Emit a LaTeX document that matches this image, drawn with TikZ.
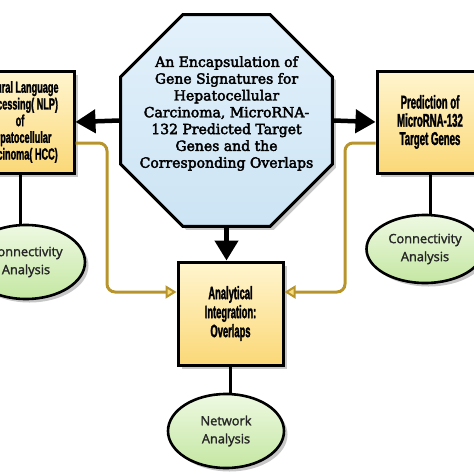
\documentclass[tikz,border=0pt]{standalone}
\usepackage{fontspec}
\usetikzlibrary{shapes.geometric,arrows.meta,shadows}
\newfontfamily\octfont{DejaVu Serif}[FakeBold=2.8]
\newfontfamily\condfont{Liberation Sans}[FakeStretch=0.57,FakeBold=1.5]
\newfontfamily\condfontb{Liberation Sans}[FakeStretch=0.52,FakeBold=1.5]
\newfontfamily\ellfont{Open Sans}[FakeBold=1.8]
\definecolor{goldline}{HTML}{B8952C}
\definecolor{goldfill}{HTML}{F6DC7A}
\definecolor{boxtop}{HTML}{FFF5CF}
\definecolor{boxbot}{HTML}{FBD877}
\definecolor{elltop}{HTML}{EEF9E2}
\definecolor{ellbot}{HTML}{C4E7A2}
\definecolor{octtop}{HTML}{E3F1FB}
\definecolor{octbot}{HTML}{CCE4F4}
\tikzset{
  shad/.style={drop shadow={shadow xshift=3.5pt,shadow yshift=-3.5pt,fill=black!40,opacity=0.55}},
  ybox/.style={draw=black,line width=3pt,top color=boxtop,bottom color=boxbot,shad,
    align=center,inner sep=0pt,font=\condfont\bfseries},
  gell/.style={ellipse,draw=black,line width=2.6pt,top color=elltop,bottom color=ellbot,shad,
    align=center,inner sep=0pt,font=\ellfont\fontsize{12.8}{18}\selectfont,text=black!85},
  blackarrow/.style={line width=4.5pt,-{Triangle[length=20pt,width=23pt]}},
  goldarrow/.style={draw=goldline,line width=3pt,rounded corners=8pt,
    -{Triangle[length=11pt,width=13pt,fill=goldfill,line width=2pt]}},
  plainline/.style={line width=3pt}
}
\begin{document}
\begin{tikzpicture}[x=1pt,y=-1pt]
\useasboundingbox (0,0) rectangle (474,474);
% octagon
\node[regular polygon,regular polygon sides=8,minimum size=229pt,inner sep=0pt,
  draw=black,line width=3pt,top color=octtop,bottom color=octbot,shad] (oct) at (226.5,120.5) {};
\node[align=center,font=\octfont\fontsize{14}{16.8}\selectfont,inner sep=0pt,text=black] (octtext) at (226.5,113.5)
  {An Encapsulation of\\Gene Signatures for\\Hepatocellular\\Carcinoma, MicroRNA-\\132 Predicted Target\\Genes and the\\Corresponding Overlaps};
% boxes
\node[ybox,minimum width=108pt,minimum height=102pt,font=\condfont\bfseries\fontsize{16}{16.7}\selectfont] (nlp) at (20,122)
  {Natural Language\\Processing( NLP)\\of\\Hepatocellular\\Carcinoma( HCC)};
\node[ybox,minimum width=106pt,minimum height=102pt,font=\condfontb\bfseries\fontsize{18.5}{18.2}\selectfont] (pred) at (430,122)
  {Prediction of\\MicroRNA-132\\Target Genes};
\node[ybox,minimum width=105pt,minimum height=103pt,font=\condfontb\bfseries\fontsize{18}{19}\selectfont] (anal) at (230.5,313.5)
  {Analytical\\Integration:\\Overlaps};
% ellipses
\node[gell,minimum width=118pt,minimum height=74pt] (conn1) at (26,262) {Connectivity\\Analysis};
\node[gell,minimum width=117pt,minimum height=68pt] (conn2) at (425,249) {Connectivity\\Analysis};
\node[gell,minimum width=116pt,minimum height=74pt] (net) at (226,431) {Network\\Analysis};
% black arrows
\draw[blackarrow] (oct.west) -- (nlp.east);
\draw[blackarrow] (oct.east) -- (pred.west);
\draw[blackarrow] (oct.south) -- (oct.south |- anal.north);
% plain lines
\draw[plainline] (nlp.south) -- (nlp.south |- conn1.north);
\draw[plainline] (pred.south) -- (pred.south |- conn2.north);
\draw[plainline] (anal.south) -- (anal.south |- net.north);
% gold connectors
\coordinate (g1) at (107,292);
\coordinate (g2) at (345,292);
\draw[goldarrow] ([yshift=-21pt]nlp.east) -| (g1) -- (g1 -| anal.west);
\draw[goldarrow] ([yshift=-21pt]pred.west) -| (g2) -- (g2 -| anal.east);
\end{tikzpicture}
\end{document}
